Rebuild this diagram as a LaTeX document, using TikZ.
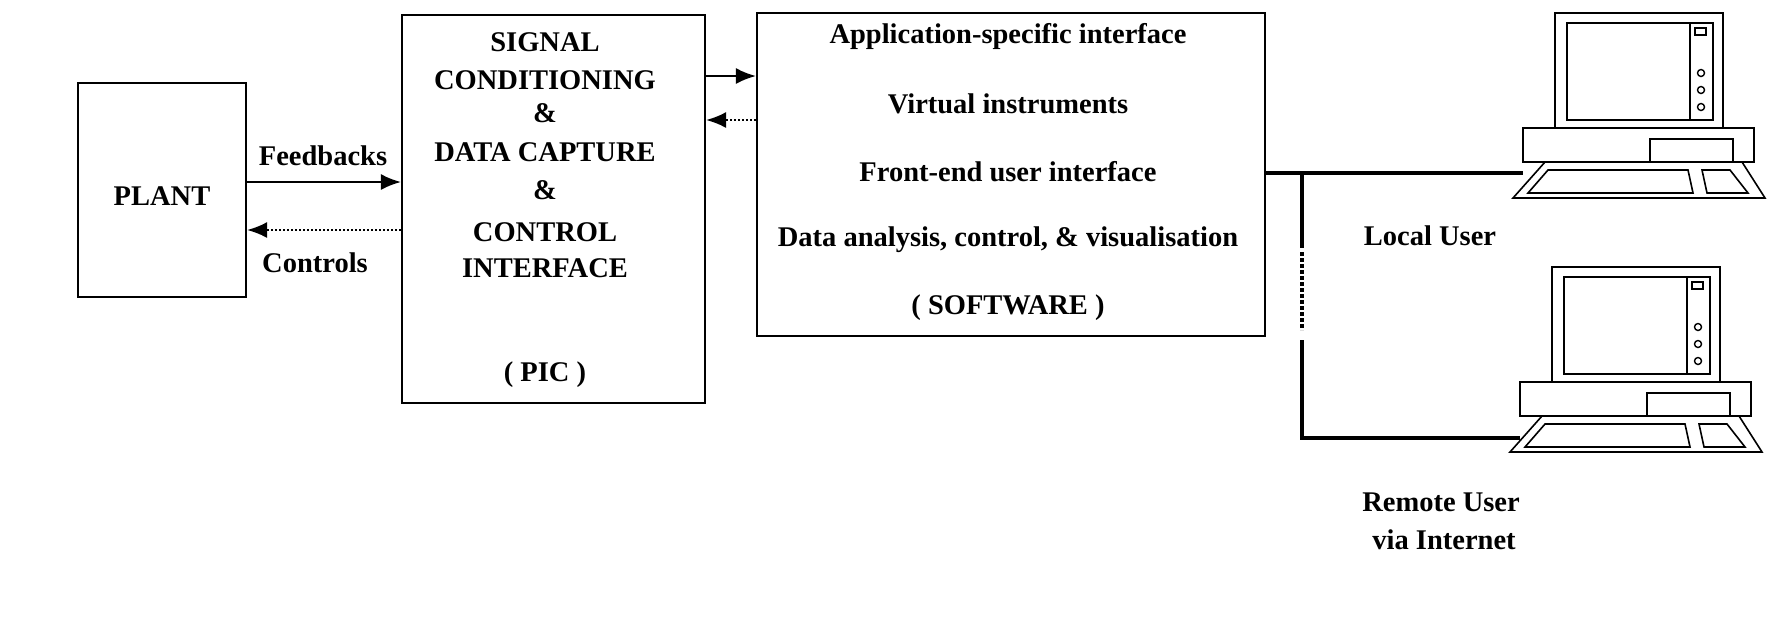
\documentclass[tikz,border=0pt]{standalone}
\usepackage{fontspec}
\setmainfont{Liberation Serif}
\usetikzlibrary{arrows.meta}
\begin{document}
\begin{tikzpicture}[x=1pt,y=-1pt,
  box/.style={draw,line width=2.2pt},
  lbl/.style={font=\bfseries\fontsize{28.5}{32}\selectfont,inner sep=0pt,anchor=center},
  conn/.style={line width=2pt,-{Latex[length=20pt,width=16pt]}},
  dconn/.style={line width=2pt,dotted,-{Latex[length=20pt,width=16pt]}},
  comp/.pic={
    \draw[line width=1.6pt] (1555,13) rectangle (1723,128);
    \draw[line width=1.6pt] (1567,23) rectangle (1713,120);
    \draw[line width=1.6pt] (1690,23) -- (1690,120);
    \draw[line width=1.4pt] (1695,28) rectangle (1706,35);
    \foreach \yy in {73,90,107} \draw[line width=1.4pt] (1701,\yy) circle (3.5);
    \draw[line width=1.6pt] (1523,128) rectangle (1754,162);
    \draw[line width=1.6pt] (1650,139) rectangle (1733,162);
    \draw[line width=1.6pt,fill=white] (1545,162) -- (1742,162) -- (1765,198) -- (1513,198) -- cycle;
    \draw[line width=1.6pt] (1548,170) -- (1688,170) -- (1693,193) -- (1528,193) -- cycle;
    \draw[line width=1.6pt] (1702,170) -- (1730,170) -- (1748,193) -- (1707,193) -- cycle;
  }]
\useasboundingbox (0,0) rectangle (1777,625);
\node[box,minimum width=168pt,minimum height=214pt] (plant) at (162,190) {};
\node[lbl] (plantt) at (162,196) {PLANT};
\node[box,minimum width=303pt,minimum height=388pt] (pic) at (553.5,209) {};
\node[box,minimum width=508pt,minimum height=323pt] (sw) at (1011,174.5) {};
\foreach \t/\yy/\n in {SIGNAL/42/p1,CONDITIONING/80/p2,\&/113/p3,DATA CAPTURE/152/p4,\&/190/p5,CONTROL/232/p6,INTERFACE/268/p7,( PIC )/375/p8}
  \node[lbl] (\n) at (545,\yy) {\t};
\foreach \t/\yy/\n in {Application-specific interface/36/s1,Virtual instruments/104/s2,Front-end user interface/172/s3,{Data analysis, control, \& visualisation}/240/s4,( SOFTWARE )/308/s5}
  \node[lbl] (\n) at (1008,\yy) {\t};
\node[lbl] (fb) at (323,156) {Feedbacks};
\node[lbl] (ct) at (315,263) {Controls};
\draw[conn] (plant.east |- 0,182) -- (pic.west |- 0,182);
\draw[dconn] (pic.west |- 0,230) -- (plant.east |- 0,230);
\draw[conn] (pic.east |- 0,76) -- (sw.west |- 0,76);
\draw[dconn] (sw.west |- 0,120) -- (pic.east |- 0,120);
\pic (c1) at (0,0) {comp};
\pic (c2) at (-3,254) {comp};
\coordinate (j) at (1302,173);
\coordinate (l1) at (1523,173);
\coordinate (l2) at (1520,438);
\coordinate (b) at (1302,438);
\draw[line width=4pt] (sw.east |- j) -- (l1);
\draw[line width=4pt] (j) -- (1302,248);
\draw[line width=4pt,dotted] (1302,252) -- (1302,330);
\draw[line width=4pt] (1302,340) -- (b) -- (l2);
\node[lbl] (lu) at (1430,236) {Local User};
\node[lbl] (ru) at (1441,502) {Remote User};
\node[lbl] (vi) at (1444,540) {via Internet};
\end{tikzpicture}
\end{document}
